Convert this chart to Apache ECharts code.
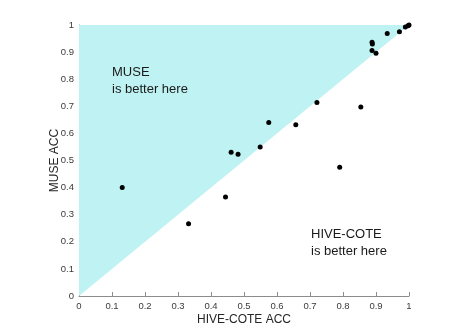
<!DOCTYPE html>
<html>
<head>
<meta charset="utf-8">
<script src="https://cdn.jsdelivr.net/npm/echarts@6/dist/echarts.min.js"></script>
<style>html,body{margin:0;padding:0;background:#fff}#c{width:474px;height:334px}</style>
</head>
<body>
<div id="c"></div>
<script>
var hiveCoteAcc = [0.131, 0.332, 0.444, 0.461, 0.482, 0.549, 0.790, 0.575, 0.657, 0.721, 0.854, 0.888, 0.889, 0.888, 0.900, 0.934, 0.971, 0.989, 0.997, 1.000];
var museAcc     = [0.400, 0.267, 0.365, 0.530, 0.523, 0.550, 0.475, 0.640, 0.632, 0.714, 0.697, 0.936, 0.930, 0.906, 0.896, 0.969, 0.975, 0.993, 0.997, 1.000];
var regionX = [0, 0, 1];
var regionY = [0, 1, 1];
var tickValues = [0, 0.1, 0.2, 0.3, 0.4, 0.5, 0.6, 0.7, 0.8, 0.9, 1];

var points = hiveCoteAcc.map(function (x, i) { return [x, museAcc[i]]; });
var region = regionX.map(function (x, i) { return [x, regionY[i]]; });

var chart = echarts.init(document.getElementById('c'), null, {renderer: 'canvas'});
var font = 'Liberation Sans, Arial, sans-serif';
function axisCommon(name, gap) {
  return {
    type: 'value', min: 0, max: 1, interval: 0.1,
    name: name, nameLocation: 'middle', nameGap: gap, nameMoveOverlap: false,
    nameTextStyle: {fontFamily: font, fontSize: 12, color: '#262626'},
    axisLine: {show: true, lineStyle: {color: '#8c8c8c', width: 1}},
    axisTick: {show: true, inside: true, length: 4, lineStyle: {color: '#8c8c8c'}},
    axisLabel: {fontFamily: font, fontSize: 9.5, color: '#3a3a3a', margin: 5,
      formatter: function (v) { return String(Math.round(v * 10) / 10); }},
    splitLine: {show: false}
  };
}
var xAxis = axisCommon('HIVE-COTE ACC', 18);
var yAxis = axisCommon('MUSE ACC', 18);
yAxis.nameRotate = 90;

chart.setOption({
  animation: false,
  grid: {left: 79, right: 65, top: 25, bottom: 38, outerBoundsMode: 'none', containLabel: false},
  xAxis: xAxis,
  yAxis: yAxis,
  series: [
    {
      type: 'custom',
      silent: true,
      data: [0],
      z: 1,
      renderItem: function (params, api) {
        var pts = region.map(function (p) { return api.coord(p); });
        return {type: 'polygon', shape: {points: pts}, style: {fill: '#bff2f2'}};
      }
    },
    {
      type: 'scatter',
      data: points,
      symbolSize: 5,
      itemStyle: {color: '#000', opacity: 1},
      z: 3
    }
  ],
  graphic: [
    {type: 'text', z: 100, left: 112, top: 64, style: {text: 'MUSE\nis better here', fontFamily: font, fontSize: 13, lineHeight: 17, fill: '#1a1a1a'}},
    {type: 'text', z: 100, left: 311, top: 226, style: {text: 'HIVE-COTE\nis better here', fontFamily: font, fontSize: 13, lineHeight: 17, fill: '#1a1a1a'}}
  ]
});
</script>
</body>
</html>
